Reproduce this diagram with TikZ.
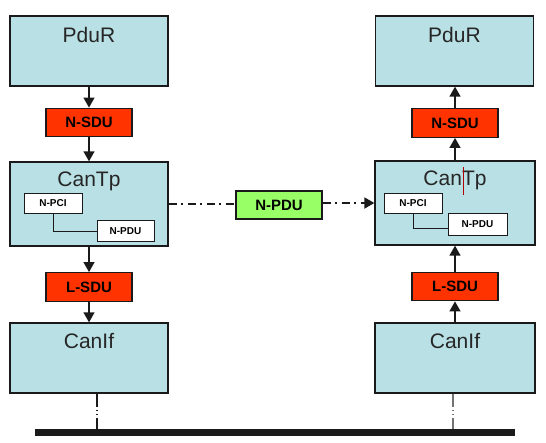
\documentclass[tikz,border=0pt]{standalone}
\usepackage{fontspec}
\setmainfont{Liberation Sans}
\usetikzlibrary{arrows.meta}
\definecolor{boxblue}{HTML}{B9E0E4}
\definecolor{sdured}{HTML}{FF3300}
\definecolor{pdugreen}{HTML}{99FF66}
\definecolor{edge}{HTML}{1A1A1A}
\tikzset{
  bigbox/.style={draw=edge, line width=1.3pt, fill=boxblue, minimum width=158pt, inner sep=0pt},
  bigtext/.style={anchor=base, font=\fontsize{21}{21}\selectfont, text=black!85},
  sdubox/.style={draw=edge, line width=1.3pt, fill=sdured, minimum width=86pt, minimum height=28.5pt, inner sep=0pt, font=\fontsize{15}{15}\selectfont\bfseries},
  pdubox/.style={draw=edge, line width=1.3pt, fill=pdugreen, minimum width=86pt, minimum height=28pt, inner sep=0pt, font=\fontsize{15}{15}\selectfont\bfseries},
  smallbox/.style={draw=edge, line width=1pt, fill=white, minimum width=58pt, minimum height=20.5pt, inner sep=0pt, font=\fontsize{10}{10}\selectfont\bfseries},
  flow/.style={draw=edge, line width=1.4pt, -{Triangle[width=11pt,length=10pt]}},
  dashdot/.style={draw=edge, line width=1.8pt, dash pattern=on 8pt off 4.5pt on 2pt off 4.5pt},
  busline/.style={draw=edge, line width=1.3pt, dash pattern=on 13pt off 3pt on 1.2pt off 3pt on 1.2pt off 3pt},
}
\begin{document}
\begin{tikzpicture}[x=1pt, y=-1pt]
\useasboundingbox (0,0) rectangle (546,442);
% left stack
\node[bigbox, minimum height=70pt] (pl) at (89,51) {};
\node[bigtext] (plt) at ([yshift=-27pt]pl.north) {PduR};
\node[sdubox] (nl) at (89,122.5) {N-SDU};
\node[bigbox, minimum height=84pt] (tl) at (89,204) {};
\node[bigtext] (tlt) at ([yshift=-25pt]tl.north) {CanTp};
\node[smallbox] (pcil) at (53,203.5) {N-PCI};
\node[smallbox, minimum width=57pt] (pdul) at (125.5,231) {N-PDU};
\node[sdubox] (ll) at (89,287) {L-SDU};
\node[bigbox, minimum height=70pt] (cl) at (89,358) {};
\node[bigtext] (clt) at ([yshift=-26pt]cl.north) {CanIf};
% right stack
\node[bigbox, minimum height=70pt] (pr) at (454.5,51) {};
\node[bigtext] (prt) at ([yshift=-27pt]pr.north) {PduR};
\node[sdubox] (nr) at (455,123) {N-SDU};
\node[bigbox, minimum width=160pt, minimum height=84pt] (tr) at (455,203) {};
\node[bigtext] (trt) at ([yshift=-25pt]tr.north) {CanTp};
\node[smallbox] (pcir) at (413,203.5) {N-PCI};
\node[smallbox, minimum width=59pt, minimum height=22pt] (pdur) at (477.5,224) {N-PDU};
\node[sdubox] (lr) at (455,286.5) {L-SDU};
\node[bigbox, minimum width=160pt, minimum height=70pt] (cr) at (455,358) {};
\node[bigtext] (crt) at ([yshift=-26pt]cr.north) {CanIf};
% middle
\node[pdubox] (g) at (279,205) {N-PDU};
% bus
\coordinate (busl) at (97,429);
\coordinate (busr) at (453,429);
\draw[line width=7pt, edge] (35,432.5) -- (515,432.5);
% left flows
\draw[flow] (pl.south) -- (nl.north);
\draw[flow] (nl.south) -- (tl.north);
\draw[flow] (tl.south) -- (ll.north);
\draw[flow] (ll.south) -- (cl.north);
% right flows
\draw[flow] (cr.north) -- (lr.south);
\draw[flow] (lr.north) -- (tr.south);
\draw[flow] (tr.north) -- (nr.south);
\draw[flow] (nr.north) -- (nr.north |- pr.south);
% internal links
\draw[edge, line width=1pt] (pcil.south) |- (pdul.west);
\draw[edge, line width=1pt] (pcir.south) |- ([yshift=-4pt]pdur.west);
% cursor mark
\draw[red!70!black, line width=0.8pt] (463,167) -- (463,195);
% dash-dot link
\draw[dashdot] (tl.east) -- (tl.east -| g.west);
\draw[dashdot, -{Triangle[width=11pt,length=10pt]}] (g.east |- tr.west) -- (tr.west);
% down to bus
\draw[busline] (cl.south -| busl) -- (busl);
\draw[busline, draw=black!55] (cr.south -| busr) -- (busr);
\end{tikzpicture}
\end{document}
